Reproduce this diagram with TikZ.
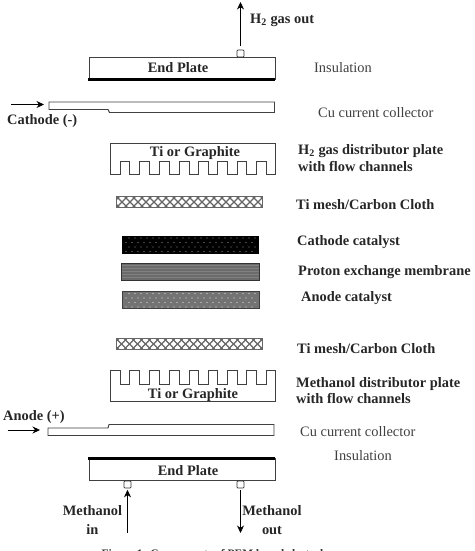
\documentclass[tikz,border=0pt]{standalone}
\usepackage{fontspec}
\setmainfont{Liberation Serif}
\usetikzlibrary{arrows.meta}
\tikzset{
  x=1pt,y=-1pt,
  plate/.style={draw=black!75,line width=0.8pt,fill=white},
  lab/.style={font=\bfseries\fontsize{14.4}{16.5}\selectfont,anchor=west,align=left,inner sep=0pt,text=black!85,yshift=-1.5pt},
  labn/.style={font=\fontsize{14.4}{16.5}\selectfont,anchor=west,align=left,inner sep=0pt,text=black!75,yshift=-1.5pt},
  ctr/.style={font=\bfseries\fontsize{14.4}{16.5}\selectfont,inner sep=0pt,text=black!85,yshift=-1.5pt},
  flow/.style={draw=black,line width=0.8pt,-{Stealth[length=7.5pt,width=7pt]}},
  port/.style={draw=black!80,line width=0.7pt,fill=white,rounded corners=0.8pt},
}
\newcommand{\meshbar}[4]{%
  \begin{scope}
    \clip (#1,#2) rectangle (#3,#4);
    \foreach \k in {-8,0,...,160}{
      \draw[black!60,line width=1.1pt] ({#1+\k},#2) -- ({#1+\k+11},#4);
      \draw[black!60,line width=1.1pt] ({#1+\k+11},#2) -- ({#1+\k},#4);
    }
  \end{scope}
  \draw[black!60,line width=0.8pt] (#1,#2) rectangle (#3,#4);
}
\newcommand{\dotbar}[5]{%
  \foreach \y [count=\r] in {0,4.5,9,13.5}{
    \pgfmathsetmacro{\off}{mod(\r,2)*3}
    \foreach \x in {4,10,...,130}{
      \fill[#5] ({#1+\x+\off},{#2+2.5+\y}) circle (0.55pt);
    }
  }
}
\begin{document}
\begin{tikzpicture}
\useasboundingbox (0,0) rectangle (474,551);
\clip (0,0) rectangle (474,551);
% top end plate
\node[plate,minimum width=186pt,minimum height=22pt,inner sep=0pt,anchor=north west] (ep1) at (88.5,57) {};
\node[ctr] (ep1t) at (178,66) {End Plate};
\fill[black] (88,77.5) rectangle (275,80.5);
\node[port,minimum width=7pt,minimum height=7pt,inner sep=0pt] (p1) at (240.5,53.5) {};
\coordinate (h2top) at (240.5,2);
\draw[flow] (p1.north) ++(0,-4) -- (h2top);
\node[lab] (h2) at (250,19) {H\textsubscript{2} gas out};
\node[labn] (ins1) at (314,66) {Insulation};
% Cu top
\draw[plate,line width=0.9pt] (49,102) -- (274.5,102) -- (274.5,112.5) -- (109.5,112.5) -- (108,109.5) -- (49,109.5) -- cycle;
\coordinate (c1) at (11,104.5); \coordinate (c1e) at (44,104.5);
\draw[flow] (c1) -- (c1e);
\node[lab] (cath) at (7,120) {Cathode (-)};
\node[labn] (cu1) at (318,111) {Cu current collector};
% H2 distributor
\draw[plate] (110,174.5) -- (110,143) -- (275,143) -- (275,174.5) -- (266,174.5)
 -- (266,161) -- (256.5,161) -- (256.5,174.5) -- (246.5,174.5)
 -- (246.5,161) -- (237,161) -- (237,174.5) -- (227.5,174.5)
 -- (227.5,161) -- (217.5,161) -- (217.5,174.5) -- (208,174.5)
 -- (208,161) -- (198.5,161) -- (198.5,174.5) -- (189,174.5)
 -- (189,161) -- (179,161) -- (179,174.5) -- (169.5,174.5)
 -- (169.5,161) -- (159.5,161) -- (159.5,174.5) -- (149.5,174.5)
 -- (149.5,161) -- (139.5,161) -- (139.5,174.5) -- (129.5,174.5)
 -- (129.5,161) -- (120,161) -- (120,174.5) -- cycle;
\node[ctr] (tg1) at (195,151.5) {Ti or Graphite};
\node[lab] (h2d) at (298,156.5) {H\textsubscript{2} gas distributor plate\\with flow channels};
% mesh
\meshbar{116.5}{196.5}{262.5}{207.5}
\node[lab] (m1) at (296,203.5) {Ti mesh/Carbon Cloth};
% cathode catalyst
\fill[black] (122,235.5) rectangle (259,253.5);
\dotbar{122}{235.5}{259}{253.5}{black!45}
\node[lab] (cc) at (297,241) {Cathode catalyst};
% PEM
\fill[black!50] (121,263) rectangle (259,280.5);
\foreach \y in {264.5,266,...,280}{\draw[black!58,line width=0.3pt] (121,\y) -- (259,\y);}
\draw[black!80,line width=0.8pt] (121,263) rectangle (259,280.5);
\node[lab] (pem) at (298,271) {Proton exchange membrane};
% anode catalyst
\fill[black!55] (122,291) rectangle (259,308.5);
\dotbar{122}{291}{259}{308.5}{black!12}
\draw[black!75,line width=0.8pt] (122,291) rectangle (259,308.5);
\node[lab] (ac) at (301,296.5) {Anode catalyst};
% mesh2
\meshbar{116}{338.5}{262}{349.5}
\node[lab] (m2) at (297,347.5) {Ti mesh/Carbon Cloth};
% methanol distributor
\draw[plate] (110,370) -- (110,401.5) -- (275,401.5) -- (275,370) -- (266,370)
 -- (266,384) -- (256.5,384) -- (256.5,370) -- (246.5,370)
 -- (246.5,384) -- (237,384) -- (237,370) -- (227.5,370)
 -- (227.5,384) -- (217.5,384) -- (217.5,370) -- (208,370)
 -- (208,384) -- (198.5,384) -- (198.5,370) -- (189,370)
 -- (189,384) -- (179,384) -- (179,370) -- (169.5,370)
 -- (169.5,384) -- (159.5,384) -- (159.5,370) -- (149.5,370)
 -- (149.5,384) -- (139.5,384) -- (139.5,370) -- (129.5,370)
 -- (129.5,384) -- (120,384) -- (120,370) -- cycle;
\node[ctr] (tg2) at (193,393.5) {Ti or Graphite};
\node[lab] (md) at (296,389) {Methanol distributor plate\\with flow channels};
% Cu bottom
\draw[plate,line width=0.9pt] (48,428) -- (108,428) -- (109,424.5) -- (274,424.5) -- (274,435.5) -- (48,435.5) -- cycle;
\node[lab] (an) at (3,416) {Anode (+)};
\coordinate (a1) at (7.5,430); \coordinate (a1e) at (40,430);
\draw[flow] (a1) -- (a1e);
\node[labn] (cu2) at (300,430.5) {Cu current collector};
\node[labn] (ins2) at (334,454) {Insulation};
% bottom end plate
\node[plate,minimum width=186pt,minimum height=22pt,inner sep=0pt,anchor=north west] (ep2) at (88.5,458) {};
\fill[black] (88,456.5) rectangle (275,459.5);
\node[ctr] (ep2t) at (188,469.5) {End Plate};
\node[port,minimum width=7pt,minimum height=7pt,inner sep=0pt] (p2) at (127.5,484.5) {};
\node[port,minimum width=7pt,minimum height=7pt,inner sep=0pt] (p3) at (240.5,484.5) {};
\coordinate (mi) at (127.5,533);
\coordinate (mo) at (240.5,533);
\draw[flow] (mi) -- ([yshift=-1.5pt]p2.south);
\draw[flow] ([yshift=-2pt]p3.south) -- (mo);
\node[ctr,align=center,font=\bfseries\fontsize{14.4}{19}\selectfont] (min) at (92.5,518.5) {Methanol\\in};
\node[ctr,align=center,font=\bfseries\fontsize{14.4}{19}\selectfont] (mout) at (272,518.5) {Methanol\\out};
\node[font=\bfseries\fontsize{11.5}{13}\selectfont,text=black!80,inner sep=0pt,anchor=base] (cap) at (223,557.5) {Figure 1: Components of PEM based electrolyzer};
\end{tikzpicture}
\end{document}
